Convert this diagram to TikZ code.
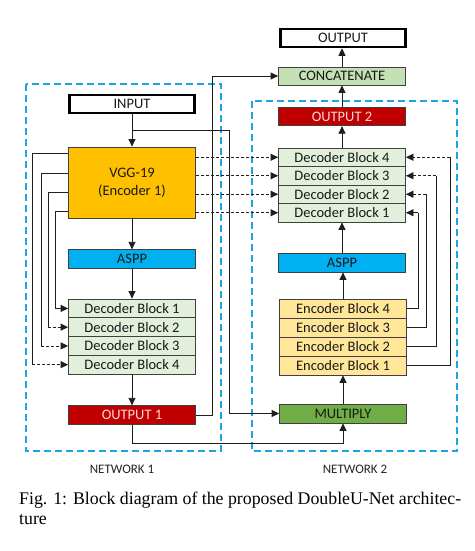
\documentclass[tikz,border=0pt]{standalone}
\usepackage{fontspec}
\setmainfont{Carlito}
\newfontfamily\capfont{Liberation Serif}
\usetikzlibrary{arrows.meta,calc}
\definecolor{netblue}{RGB}{28,165,225}
\definecolor{vggc}{RGB}{255,192,0}
\definecolor{asppc}{RGB}{0,176,240}
\definecolor{decc}{RGB}{226,239,218}
\definecolor{encc}{RGB}{255,230,153}
\definecolor{outc}{RGB}{192,0,0}
\definecolor{concc}{RGB}{197,224,180}
\definecolor{multc}{RGB}{112,173,71}
\definecolor{linec}{RGB}{30,30,30}
\definecolor{outtext}{RGB}{255,215,215}
\begin{document}
\begin{tikzpicture}[x=1pt,y=-1pt,
  blk/.style={draw=black!75,line width=0.8pt,minimum width=127pt,inner sep=0pt,
    font=\fontsize{14.5}{18}\selectfont,text=black!90},
  io/.style={blk,draw=black,line width=2.6pt,fill=white,minimum width=125pt,minimum height=18pt},
  vggbox/.style={blk,fill=vggc,minimum height=71pt,align=center},
  asppbox/.style={blk,fill=asppc,minimum height=18.5pt},
  decbox/.style={blk,fill=decc,minimum height=18.75pt},
  encbox/.style={blk,fill=encc,minimum height=19pt},
  outbox/.style={blk,fill=outc,text=outtext,minimum height=18.5pt},
  concbox/.style={blk,fill=concc,minimum height=18pt},
  multbox/.style={blk,fill=multc,minimum height=19pt},
  conn/.style={draw=linec,line width=0.8pt},
  arr/.style={conn,-{Triangle[length=7.5pt,width=7pt]}},
  darr/.style={arr,dash pattern=on 3pt off 2pt},
  net/.style={draw=netblue,line width=2.8pt,dash pattern=on 7pt off 4pt},
  netlabel/.style={font=\fontsize{13}{15}\selectfont,text=black!85},
  capline/.style={anchor=base west,inner sep=0pt,font=\capfont\fontsize{17.8}{21}\selectfont}
]
\useasboundingbox (0,0) rectangle (474,551);
\fill[white] (0,0) rectangle (474,551);

% network frames
\draw[net] (26,84) rectangle (221,451);
\draw[net] (252,101) rectangle (457,451);

% Network 1
\node[io] (input) at (132,104) {INPUT};
\node[vggbox] (vgg) at (132,182.5) {VGG-19\\(Encoder 1)};
\node[asppbox] (asppl) at (132,259) {ASPP};
\node[decbox] (dl1) at (132,308.4) {Decoder Block 1};
\node[decbox] (dl2) at (132,327.15) {Decoder Block 2};
\node[decbox] (dl3) at (132,345.9) {Decoder Block 3};
\node[decbox] (dl4) at (132,364.65) {Decoder Block 4};
\node[outbox] (out1) at (132,415) {OUTPUT 1};

% Network 2
\node[io] (output) at (343,38) {OUTPUT};
\node[concbox] (concat) at (342,76) {CONCATENATE};
\node[outbox] (out2) at (342,116.5) {OUTPUT 2};
\node[decbox,minimum height=18.5pt] (dr4) at (342,157.25) {Decoder Block 4};
\node[decbox,minimum height=18.5pt] (dr3) at (342,175.75) {Decoder Block 3};
\node[decbox,minimum height=18.5pt] (dr2) at (342,194.25) {Decoder Block 2};
\node[decbox,minimum height=18.5pt] (dr1) at (342,212.75) {Decoder Block 1};
\node[asppbox,minimum height=19pt] (asppr) at (342,262.5) {ASPP};
\node[encbox] (enc4) at (343,308.5) {Encoder Block 4};
\node[encbox] (enc3) at (343,327.5) {Encoder Block 3};
\node[encbox] (enc2) at (343,346.5) {Encoder Block 2};
\node[encbox] (enc1) at (343,365.5) {Encoder Block 1};
\node[multbox] (mult) at (343,413.5) {MULTIPLY};

% labels
\node[netlabel] (n1) at (122,469) {NETWORK 1};
\node[netlabel] (n2) at (355,469) {NETWORK 2};
\node[capline] (cap1) at (19,504) {\makebox[442pt][s]{Fig. 1: Block diagram of the proposed DoubleU-Net architec-}};
\node[capline] (cap2) at (19,524) {ture};

% main flow network 1
\draw[arr] (input.south) -- (vgg.north);
\draw[arr] (vgg.south) -- (asppl.north);
\draw[arr] (asppl.south) -- (dl1.north);
\draw[arr] (dl4.south) -- (out1.north);

% main flow network 2
\draw[arr] (mult.north) -- (mult.north |- enc1.south);
\draw[arr] (enc4.north) -- (enc4.north |- asppr.south);
\draw[arr] (asppr.north) -- (dr1.south);
\draw[arr] (dr4.north) -- (out2.south);
\draw[arr] (out2.north) -- (concat.south);
\draw[arr] (concat.north) -- (concat.north |- output.south);

% input to multiply
\coordinate (split) at (132,130);
\coordinate (ra) at (229,130);
\draw[conn] (split) -- (ra);
\draw[arr] (ra) |- (mult.west);

% output 1 to concatenate
\coordinate (rb) at (212,76);
\draw[arr] (out1.east) -| (rb) -- (concat.west);

% output 1 to multiply
\coordinate (rc) at (132,443);
\draw[arr] (out1.south) -- (rc) -| (mult.south);

% skip connections VGG -> left decoder
\coordinate (k4) at (32,364.65);
\coordinate (k3) at (41,345.9);
\coordinate (k2) at (48,327.15);
\coordinate (k1) at (55,308.4);
\draw[conn] ($(vgg.west)+(0,-29)$) -| (k4);
\draw[darr] (k4) -- (dl4.west);
\draw[conn] ($(vgg.west)+(0,-9.5)$) -| (k3);
\draw[darr] (k3) -- (dl3.west);
\draw[conn] ($(vgg.west)+(0,9.5)$) -| (k2);
\draw[darr] (k2) -- (dl2.west);
\draw[conn] ($(vgg.west)+(0,29)$) -| (k1);
\draw[arr] (k1) -- (dl1.west);

% VGG -> right decoder
\draw[darr] (vgg.east |- dr4.west) -- (dr4.west);
\draw[darr] (vgg.east |- dr3.west) -- (dr3.west);
\draw[darr] (vgg.east |- dr2.west) -- (dr2.west);
\draw[darr] (vgg.east |- dr1.west) -- (dr1.west);

% skip connections encoder -> right decoder
\coordinate (m1) at (418,212.75);
\coordinate (m2) at (426,194.25);
\coordinate (m3) at (436,175.75);
\coordinate (m4) at (450,157.25);
\draw[conn] (enc4.east) -| (m1);
\draw[arr] (m1) -- (dr1.east);
\draw[conn] (enc3.east) -| (m2);
\draw[darr] (m2) -- (dr2.east);
\draw[conn] (enc2.east) -| (m3);
\draw[darr] (m3) -- (dr3.east);
\draw[conn] (enc1.east) -| (m4);
\draw[darr] (m4) -- (dr4.east);
\end{tikzpicture}
\end{document}
